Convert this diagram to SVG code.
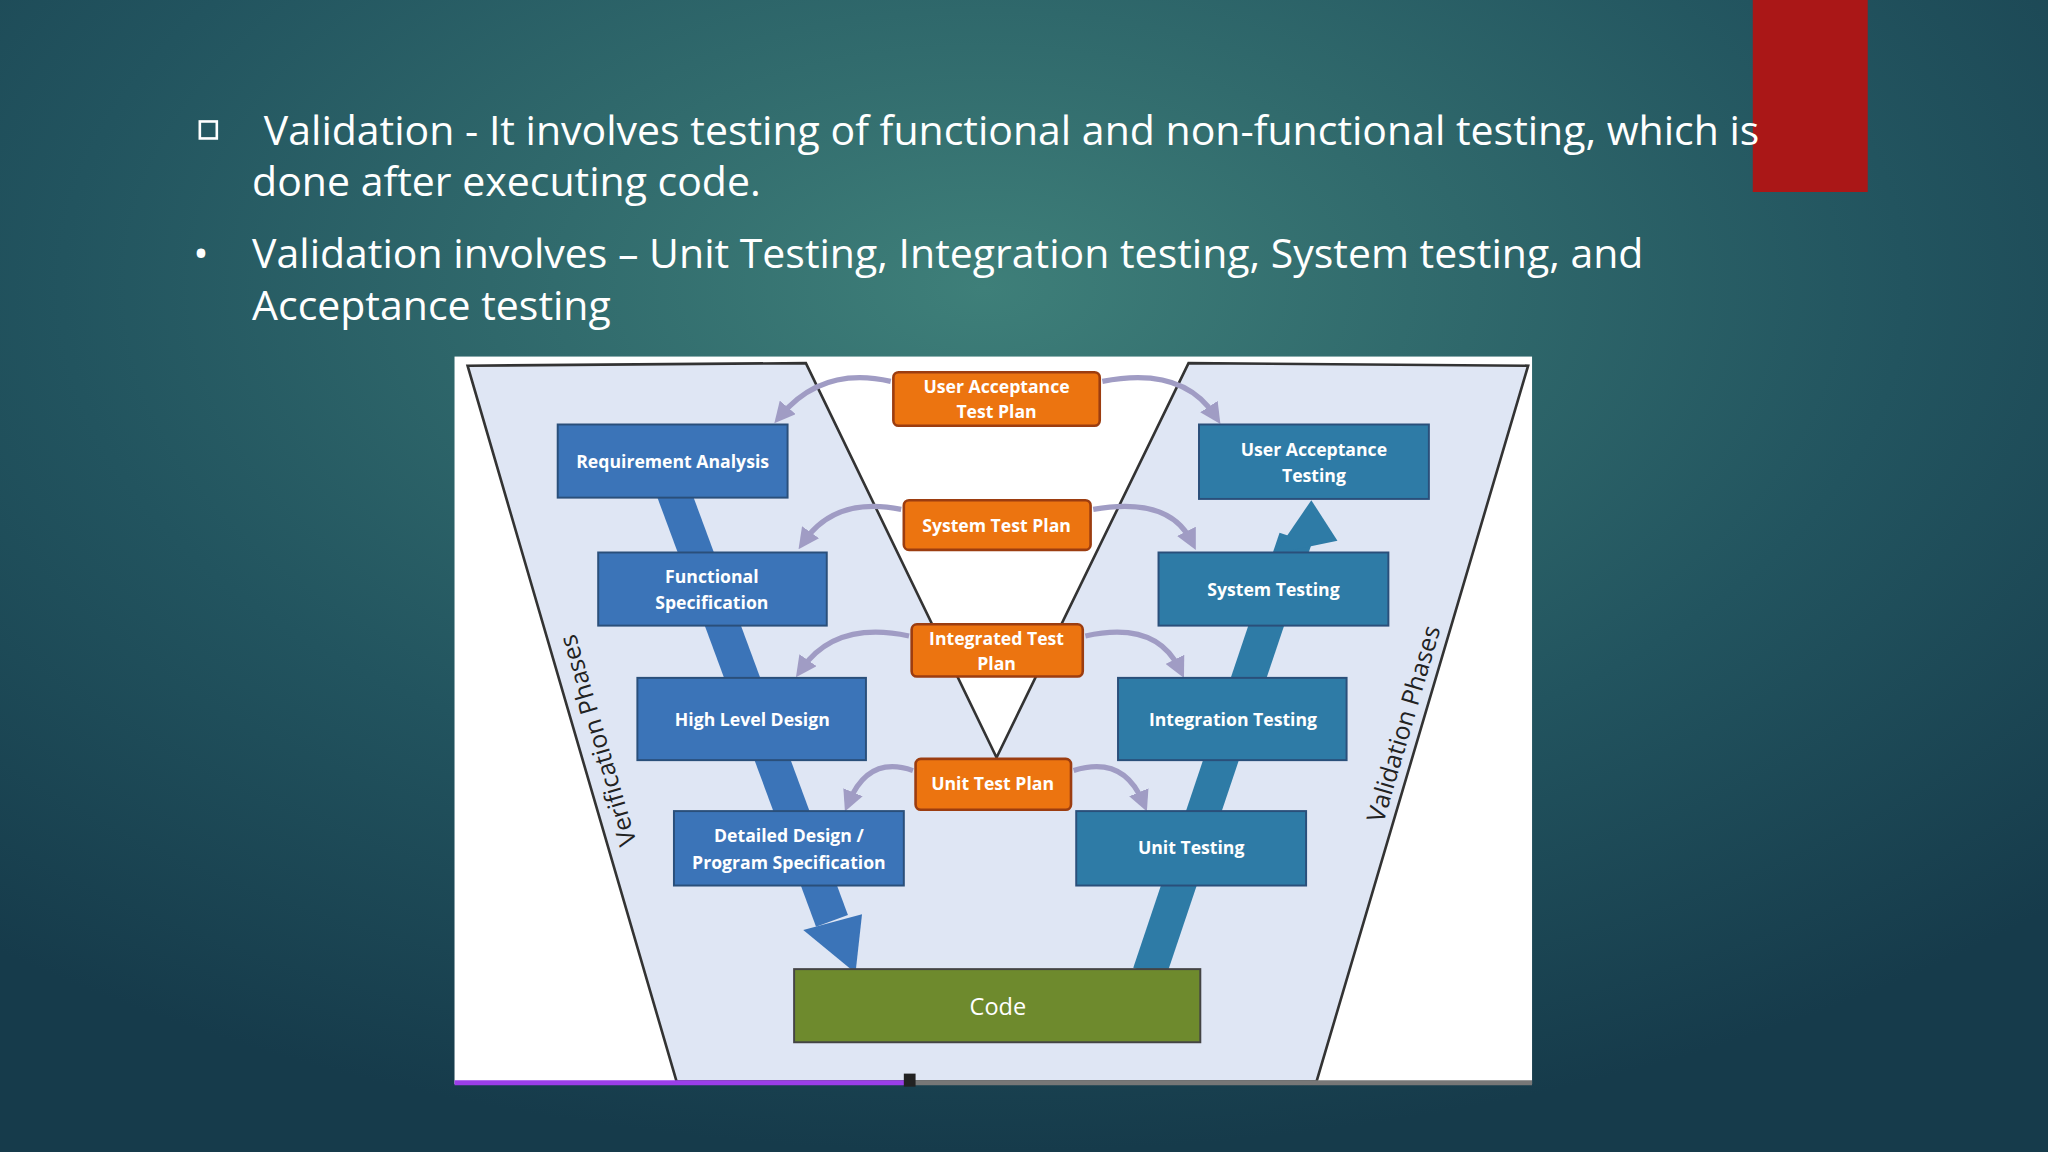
<svg xmlns="http://www.w3.org/2000/svg" width="2048" height="1152" viewBox="0 0 2048 1152">
<defs>
<radialGradient id="bg" cx="0.48" cy="0.25" r="0.75">
<stop offset="0" stop-color="#3e7f79"/><stop offset="0.6" stop-color="#22545f"/><stop offset="1" stop-color="#163b4b"/>
</radialGradient>
<marker id="ga" viewBox="0 0 10 10" refX="5" refY="5" markerWidth="4" markerHeight="4" orient="auto"><path d="M0,0L10,5L0,10z" fill="#a09cc4"/></marker>
<style>
.t{font-family:"Open Sans",sans-serif;fill:#fff;font-size:31.4px}
.b{stroke:#2a4f7a;stroke-width:1.5}
.l{fill:#3b74b8}.r{fill:#2e7ba6}
.o{fill:#ec7410;stroke:#9c3d10;stroke-width:2}
.bt{font-family:"Open Sans",sans-serif;font-weight:bold;fill:#fff;font-size:13.5px;text-anchor:middle}
.c{fill:none;stroke:#a09cc4;stroke-width:4;marker-end:url(#ga)}
.ph{font-family:"Open Sans",sans-serif;font-size:19px;fill:#222;text-anchor:middle}
</style>
</defs>
<rect width="2048" height="1152" fill="url(#bg)"/>
<g transform="scale(1.3061)">
<rect x="1342" y="0" width="88" height="147" fill="#aa1717"/>
<g id="text">
<rect x="153" y="93" width="13" height="13" fill="none" stroke="#fff" stroke-width="2"/>
<text class="t" x="202" y="111">Validation - It involves testing of functional and non-functional testing, which is</text>
<text class="t" x="193" y="150">done after executing code.</text>
<text class="t" x="148" y="205" font-size="20">•</text>
<text class="t" x="193" y="205">Validation involves – Unit Testing, Integration testing, System testing, and</text>
<text class="t" x="193" y="245">Acceptance testing</text>
</g>
<rect x="348" y="273" width="825" height="557" fill="#fff"/>
<polygon points="358,280 617,278 763,580 910,278 1170,280 1008,828 518,828" fill="#dfe6f4" stroke="#333" stroke-width="2"/>
<line x1="348" y1="829" x2="697" y2="829" stroke="#9a3ee8" stroke-width="4"/>
<line x1="697" y1="829" x2="1173" y2="829" stroke="#777" stroke-width="4"/>
<rect x="692" y="822" width="9" height="10" fill="#222"/>
<text class="ph" transform="translate(464,565) rotate(-106.3)">Verification Phases</text>
<text class="ph" transform="translate(1081,556) rotate(-73.6)">Validation Phases</text>
<g id="connectors">
<line x1="515" y1="375" x2="637" y2="705" stroke="#3b74b8" stroke-width="26"/>
<polygon points="615,712 660,700 655,745" fill="#3b74b8"/>
<line x1="880" y1="745" x2="992" y2="412" stroke="#2e7ba6" stroke-width="26"/>
<polygon points="976,424 1024,414 1004,383" fill="#2e7ba6"/>
<path class="c" d="M682,292 Q630,280 598,318"/>
<path class="c" d="M844,292 Q905,280 930,318"/>
<path class="c" d="M690,390 Q640,380 616,414"/>
<path class="c" d="M837,390 Q895,380 912,414"/>
<path class="c" d="M696,487 Q640,475 614,512"/>
<path class="c" d="M831,487 Q885,475 903,512"/>
<path class="c" d="M699,590 Q665,578 650,614"/>
<path class="c" d="M822,590 Q860,578 875,614"/>
</g>
<g id="ra"><rect class="l b" x="427" y="325" width="176" height="56"/><text class="bt" x="515" y="358">Requirement Analysis</text></g>
<g id="fs"><rect class="l b" x="458" y="423" width="175" height="56"/><text class="bt" x="545" y="446">Functional</text><text class="bt" x="545" y="466">Specification</text></g>
<g id="hld"><rect class="l b" x="488" y="519" width="175" height="63"/><text class="bt" x="576" y="556">High Level Design</text></g>
<g id="dd"><rect class="l b" x="516" y="621" width="176" height="57"/><text class="bt" x="604" y="645">Detailed Design /</text><text class="bt" x="604" y="665">Program Specification</text></g>
<g id="uat"><rect class="r b" x="918" y="325" width="176" height="57"/><text class="bt" x="1006" y="349">User Acceptance</text><text class="bt" x="1006" y="369">Testing</text></g>
<g id="st"><rect class="r b" x="887" y="423" width="176" height="56"/><text class="bt" x="975" y="456">System Testing</text></g>
<g id="it"><rect class="r b" x="856" y="519" width="175" height="63"/><text class="bt" x="944" y="556">Integration Testing</text></g>
<g id="ut"><rect class="r b" x="824" y="621" width="176" height="57"/><text class="bt" x="912" y="654">Unit Testing</text></g>
<g id="code"><rect x="608" y="742" width="311" height="56" fill="#6e8a2d" stroke="#444" stroke-width="1.5"/><text x="764" y="777" font-family="Open Sans,sans-serif" font-size="18" fill="#fff" text-anchor="middle">Code</text></g>
<g id="uatp"><rect class="o" x="684" y="285" width="158" height="41" rx="4"/><text class="bt" x="763" y="301">User Acceptance</text><text class="bt" x="763" y="320">Test Plan</text></g>
<g id="stp"><rect class="o" x="692" y="383" width="143" height="38" rx="4"/><text class="bt" x="763" y="407">System Test Plan</text></g>
<g id="itp"><rect class="o" x="698" y="478" width="131" height="40" rx="4"/><text class="bt" x="763" y="494">Integrated Test</text><text class="bt" x="763" y="513">Plan</text></g>
<g id="utp"><rect class="o" x="701" y="581" width="119" height="39" rx="4"/><text class="bt" x="760" y="605">Unit Test Plan</text></g>
</g>
</svg>
